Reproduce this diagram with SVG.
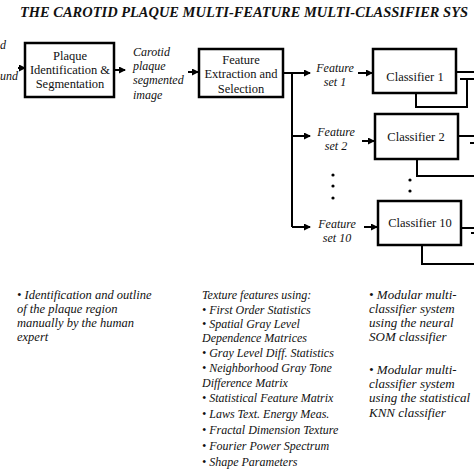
<svg xmlns="http://www.w3.org/2000/svg" width="474" height="474" viewBox="0 0 474 474">
<defs>
<marker id="ah" markerWidth="7" markerHeight="7" refX="6" refY="3.5" orient="auto" markerUnits="userSpaceOnUse">
<path d="M0,0 L7,3.5 L0,7 Z" fill="#000"/>
</marker>
</defs>
<style>
.box{fill:#fff;stroke:#000;stroke-width:2.5}
.ln{fill:none;stroke:#000;stroke-width:2}
.arr{fill:none;stroke:#000;stroke-width:2;marker-end:url(#ah)}
.t{font-family:"Liberation Serif",serif;font-size:12.5px;fill:#111;text-anchor:middle}
.i{font-family:"Liberation Serif",serif;font-style:italic;font-size:12px;fill:#111}
.il{font-size:12.5px}
.ir{font-size:13px}
.ic{text-anchor:middle}
.title{font-family:"Liberation Serif",serif;font-style:italic;font-weight:bold;font-size:14px;fill:#111}
</style>
<rect width="474" height="474" fill="#fff"/>
<text class="title" x="20" y="17" textLength="448" lengthAdjust="spacingAndGlyphs">THE CAROTID PLAQUE MULTI-FEATURE MULTI-CLASSIFIER SYS</text>

<g id="input-label">
<text class="i" x="0" y="49">d</text>
<text class="i" x="0" y="80">und</text>
</g>

<g id="plaque-seg">
<rect class="box" x="25" y="43" width="89" height="54"/>
<text class="t" x="70" y="60">Plaque</text>
<text class="t" x="70" y="74">Identification &amp;</text>
<text class="t" x="70" y="88">Segmentation</text>
</g>

<g id="seg-image-label">
<text class="i" x="133" y="56">Carotid</text>
<text class="i" x="133" y="70">plaque</text>
<text class="i" x="133" y="84">segmented</text>
<text class="i" x="133" y="99">image</text>
</g>

<g id="feature-extraction">
<rect class="box" x="199" y="49" width="84" height="48"/>
<text class="t" x="241" y="64">Feature</text>
<text class="t" x="241" y="78">Extraction and</text>
<text class="t" x="241" y="93">Selection</text>
</g>

<g id="fs1"><text class="i ic" x="335" y="72">Feature</text><text class="i ic" x="335" y="86">set 1</text></g>
<g id="fs2"><text class="i ic" x="336" y="136">Feature</text><text class="i ic" x="336" y="150">set 2</text></g>
<g id="fs10"><text class="i ic" x="337" y="228">Feature</text><text class="i ic" x="337" y="242">set 10</text></g>

<g id="classifier1">
<rect class="box" x="373" y="49" width="83" height="44"/>
<text class="t" x="415" y="81">Classifier 1</text>
</g>
<g id="classifier2">
<rect class="box" x="375" y="114" width="83" height="45"/>
<text class="t" x="416" y="141">Classifier 2</text>
</g>
<g id="classifier10">
<rect class="box" x="378" y="201" width="83" height="44"/>
<text class="t" x="420" y="227">Classifier 10</text>
</g>

<g id="connectors">
<path class="arr" d="M18,68 H25"/>
<path class="arr" d="M114,70 H125"/>
<path class="arr" d="M188,72 H198"/>
<path class="ln" d="M283,73 H292 M292,72 V227"/>
<path class="arr" d="M292,73 H310"/>
<path class="arr" d="M292,136 H310"/>
<path class="arr" d="M292,227 H310"/>
<path class="arr" d="M358,73 H372"/>
<path class="arr" d="M362,141 H374"/>
<path class="arr" d="M364,227 H377"/>
<path class="ln" d="M457,72 H474 M460,79 H474 M467,79 V107 H416 V93"/>
<path class="ln" d="M458,136 H474 M470,143 H474 M417,159 V176 H474"/>
<path class="ln" d="M461,228 H474 M471,233 H474 M422,245 V264 H474"/>
</g>

<g id="dots">
<circle cx="333" cy="175" r="1.6"/><circle cx="333" cy="186" r="1.6"/><circle cx="333" cy="198" r="1.6"/>
<circle cx="410" cy="180" r="1.6"/><circle cx="410" cy="191" r="1.6"/>
</g>

<g id="note-left">
<text class="i il" x="17" y="299">• Identification and outline</text>
<text class="i il" x="17" y="313">of the plaque region</text>
<text class="i il" x="17" y="327">manually by the human</text>
<text class="i il" x="17" y="341">expert</text>
</g>

<g id="note-middle">
<text class="i" x="202" y="299">Texture features using:</text>
<text class="i" x="202" y="314">•  First Order Statistics</text>
<text class="i" x="202" y="328">• Spatial Gray Level</text>
<text class="i" x="202" y="342">Dependence Matrices</text>
<text class="i" x="202" y="357">• Gray Level Diff. Statistics</text>
<text class="i" x="202" y="372">• Neighborhood Gray Tone</text>
<text class="i" x="202" y="387">Difference Matrix</text>
<text class="i" x="202" y="402">• Statistical Feature Matrix</text>
<text class="i" x="202" y="418">• Laws Text. Energy Meas.</text>
<text class="i" x="202" y="434">• Fractal Dimension Texture</text>
<text class="i" x="202" y="450">• Fourier Power Spectrum</text>
<text class="i" x="202" y="466">• Shape Parameters</text>
</g>

<g id="note-right">
<text class="i ir" x="369" y="299">• Modular multi-</text>
<text class="i ir" x="369" y="313">classifier system</text>
<text class="i ir" x="369" y="327">using the neural</text>
<text class="i ir" x="369" y="341">SOM classifier</text>
<text class="i ir" x="369" y="374">• Modular multi-</text>
<text class="i ir" x="369" y="388">classifier system</text>
<text class="i ir" x="369" y="402">using the statistical</text>
<text class="i ir" x="369" y="417">KNN classifier</text>
</g>
</svg>
